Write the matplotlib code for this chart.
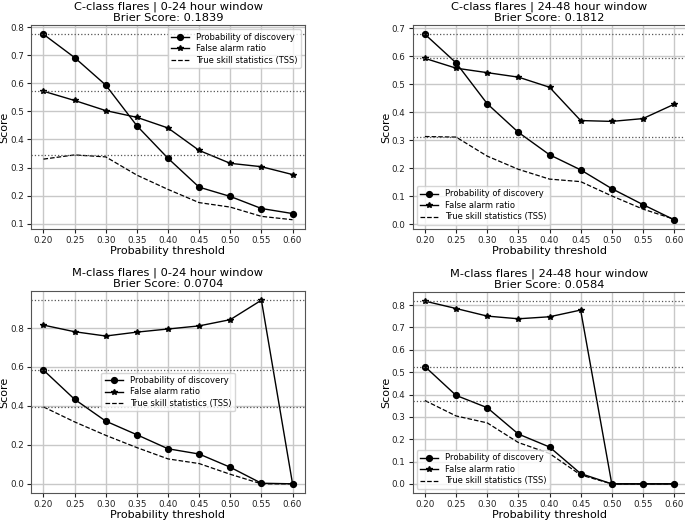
import matplotlib
matplotlib.use('Agg')
import matplotlib.pyplot as plt
import numpy as np

thresholds = [0.20, 0.25, 0.30, 0.35, 0.40, 0.45, 0.50, 0.55, 0.60]

# C-class, 0-24 h
c024_pod = [0.775, 0.692, 0.594, 0.449, 0.333, 0.230, 0.197, 0.154, 0.136]
c024_far = [0.572, 0.539, 0.503, 0.479, 0.441, 0.361, 0.315, 0.303, 0.275]
c024_tss = [0.330, 0.345, 0.338, 0.273, 0.222, 0.175, 0.159, 0.126, 0.114]

# C-class, 24-48 h
c2448_pod = [0.678, 0.576, 0.430, 0.328, 0.248, 0.194, 0.127, 0.070, 0.016]
c2448_far = [0.592, 0.557, 0.541, 0.525, 0.489, 0.370, 0.367, 0.377, 0.428]
c2448_tss = [0.313, 0.311, 0.243, 0.196, 0.161, 0.152, 0.101, 0.054, 0.018]

# M-class, 0-24 h
m024_pod = [0.584, 0.434, 0.322, 0.252, 0.180, 0.153, 0.085, 0.003, 0.0]
m024_far = [0.815, 0.781, 0.759, 0.779, 0.795, 0.811, 0.843, 0.943, 0.0]
m024_tss = [0.395, 0.318, 0.249, 0.186, 0.128, 0.104, 0.049, 0.0, 0.0]

# M-class, 24-48 h
m2448_pod = [0.525, 0.396, 0.341, 0.223, 0.165, 0.046, 0.0, 0.0, 0.0]
m2448_far = [0.818, 0.785, 0.751, 0.739, 0.748, 0.778, 0.0, 0.0, 0.0]
m2448_tss = [0.373, 0.304, 0.273, 0.185, 0.136, 0.040, 0.0, 0.0, 0.0]

titles = ['C-class flares | 0-24 hour window\nBrier Score: 0.1839',
          'C-class flares | 24-48 hour window\nBrier Score: 0.1812',
          'M-class flares | 0-24 hour window\nBrier Score: 0.0704',
          'M-class flares | 24-48 hour window\nBrier Score: 0.0584']

panels = [(c024_pod, c024_far, c024_tss),
          (c2448_pod, c2448_far, c2448_tss),
          (m024_pod, m024_far, m024_tss),
          (m2448_pod, m2448_far, m2448_tss)]

legend_locs = ['upper right', 'lower left', 'center', 'lower left']

W, H = 685.0, 522.0
# left, top, width, bottom in pixels
boxes = [(31, 25, 274, 229),
         (412.5, 25, 274, 229),
         (31, 291, 274, 493),
         (412.5, 292, 274, 493)]

fig = plt.figure(figsize=(6.85, 5.22), dpi=100)

for (l, t, w, b), (pod, far, tss), title, loc in zip(boxes, panels, titles, legend_locs):
    ax = fig.add_axes([l / W, 1 - b / H, w / W, (b - t) / H])
    ax.plot(thresholds, pod, color='black', marker='o', markersize=4.2, lw=1.0,
            label='Probability of discovery')
    ax.plot(thresholds, far, color='black', marker='*', markersize=4.2, lw=1.0,
            label='False alarm ratio')
    ax.plot(thresholds, tss, color='black', ls='--', lw=0.9,
            label='True skill statistics (TSS)')
    for s in (pod, far, tss):
        ax.axhline(max(s), color='#555555', ls=':', lw=0.9)
    ax.set_xticks(thresholds)
    ax.set_xticklabels(['%.2f' % t for t in thresholds])
    ax.grid(True, color='#c8c8c8', lw=1.0)
    ax.set_axisbelow(True)
    for sp in ax.spines.values():
        sp.set_color('#555555')
    ax.tick_params(labelsize=6.3, colors='#222222', length=3, pad=2)
    ax.set_xlabel('Probability threshold', fontsize=8, labelpad=1)
    ax.set_ylabel('Score', fontsize=8, labelpad=0.5)
    ax.set_title(title, fontsize=8.2, linespacing=1.05, pad=3)
    ax.legend(loc=loc, fontsize=6, handlelength=2.2, borderpad=0.4,
              labelspacing=0.3)

fig.savefig('out.png', dpi=100)
